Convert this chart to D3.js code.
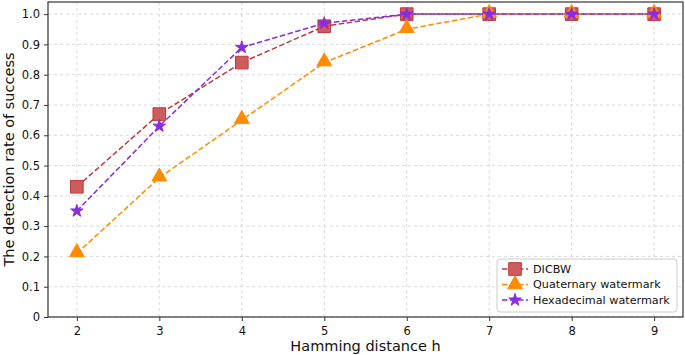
<!DOCTYPE html>
<html><head><meta charset="utf-8">
<script src="https://cdn.jsdelivr.net/npm/d3@7"></script>
<style>body{margin:0;background:#fff;} text{font-family:"DejaVu Sans",sans-serif;}</style>
</head><body><svg id="c" width="685" height="355"></svg>
<script>
const hValues = [2,3,4,5,6,7,8,9];
const dicbw = [0.43,0.67,0.84,0.96,1,1,1,1];
const quaternary = [0.21,0.46,0.65,0.84,0.95,1,1,1];
const hexadecimal = [0.35,0.63,0.89,0.97,1,1,1,1];
const yTicks = [0,0.1,0.2,0.3,0.4,0.5,0.6,0.7,0.8,0.9,1.0];
const yTickLabels = ["0","0.1","0.2","0.3","0.4","0.5","0.6","0.7","0.8","0.9","1.0"];
const seriesNames = ["DICBW","Quaternary watermark","Hexadecimal watermark"];

const svg = d3.select("#c");
const L=48, R=683, T=2, B=317;
const x = d3.scaleLinear().domain([1.65,9.35]).range([L,R]);
const y = d3.scaleLinear().domain([0,1.04]).range([B,T]);

// grid
const g = svg.append("g");
g.selectAll(".gx").data(hValues).enter().append("line")
 .attr("x1",d=>x(d)).attr("x2",d=>x(d)).attr("y1",T).attr("y2",B)
 .attr("stroke","#d0d0d0").attr("stroke-width",0.8).attr("stroke-dasharray","3,3");
g.selectAll(".gy").data(yTicks).enter().append("line")
 .attr("y1",d=>y(d)).attr("y2",d=>y(d)).attr("x1",L).attr("x2",R)
 .attr("stroke","#d0d0d0").attr("stroke-width",0.8).attr("stroke-dasharray","3,3");

// axes
const xa = svg.append("g").attr("transform",`translate(0,${B})`)
 .call(d3.axisBottom(x).tickValues(hValues).tickSize(4).tickPadding(4).tickFormat(d3.format("d")));
const ya = svg.append("g").attr("transform",`translate(${L},0)`)
 .call(d3.axisLeft(y).tickValues(yTicks).tickSize(4).tickPadding(4).tickFormat((d,i)=>yTickLabels[i]));
[xa,ya].forEach(a=>{a.select(".domain").remove();a.selectAll("text").attr("font-size",11.5).attr("fill","#111").style("font-family","DejaVu Sans");a.selectAll("line").attr("stroke","#333");});
xa.selectAll("text").attr("dy","0.9em");

svg.append("rect").attr("x",L).attr("y",T).attr("width",R-L).attr("height",B-T)
 .attr("fill","none").attr("stroke","#333").attr("stroke-width",1.2);

const series = [
 {name:seriesNames[0], vals:dicbw, line:"#c0393b", fill:"#cd5c5c", edge:"#c0393b", sym:d3.symbolSquare, size:160},
 {name:seriesNames[1], vals:quaternary, line:"#ff8c00", fill:"#ff8c00", edge:"#ff8c00", sym:d3.symbolTriangle, size:95},
 {name:seriesNames[2], vals:hexadecimal, line:"#8a2be2", fill:"#8a2be2", edge:"#8a2be2", sym:d3.symbolStar, size:48}
];
const lineGen = d3.line().x((d,i)=>x(hValues[i])).y(d=>y(d));
series.forEach(s=>{
  svg.append("path").attr("d",lineGen(s.vals)).attr("fill","none")
   .attr("stroke",s.line).attr("stroke-width",1.5).attr("stroke-dasharray","5.5,2.5");
  svg.selectAll(null).data(s.vals).enter().append("path")
   .attr("d",d3.symbol().type(s.sym).size(s.size))
   .attr("transform",(d,i)=>`translate(${x(hValues[i])},${y(d)+(s.sym===d3.symbolTriangle?-1:0)})`)
   .attr("fill",s.fill).attr("stroke",s.edge).attr("stroke-width",1);
});

// legend
const lg = svg.append("g");
lg.append("rect").attr("x",497).attr("y",259).attr("width",180).attr("height",53).attr("rx",3)
 .attr("fill","#fff").attr("fill-opacity",0.85).attr("stroke","#ccc");
series.forEach((s,i)=>{
  const yy = 269 + i*15.5;
  lg.append("line").attr("x1",502).attr("x2",528).attr("y1",yy).attr("y2",yy)
   .attr("stroke",s.line).attr("stroke-width",1.5).attr("stroke-dasharray","5.5,2.5");
  lg.append("path").attr("d",d3.symbol().type(s.sym).size(s.size))
   .attr("transform",`translate(515,${yy})`).attr("fill",s.fill).attr("stroke",s.edge);
  lg.append("text").attr("x",533).attr("y",yy).attr("dy","0.35em").attr("font-size",11.2).attr("fill","#111").text(s.name);
});

svg.append("text").attr("x",(L+R)/2).attr("y",351).attr("text-anchor","middle").attr("font-size",14.5).attr("fill","#111").text("Hamming distance h");
svg.append("text").attr("transform",`translate(14,${(T+B)/2}) rotate(-90)`).attr("text-anchor","middle").attr("font-size",14.5).attr("fill","#111").text("The detection rate of success");
</script></body></html>
